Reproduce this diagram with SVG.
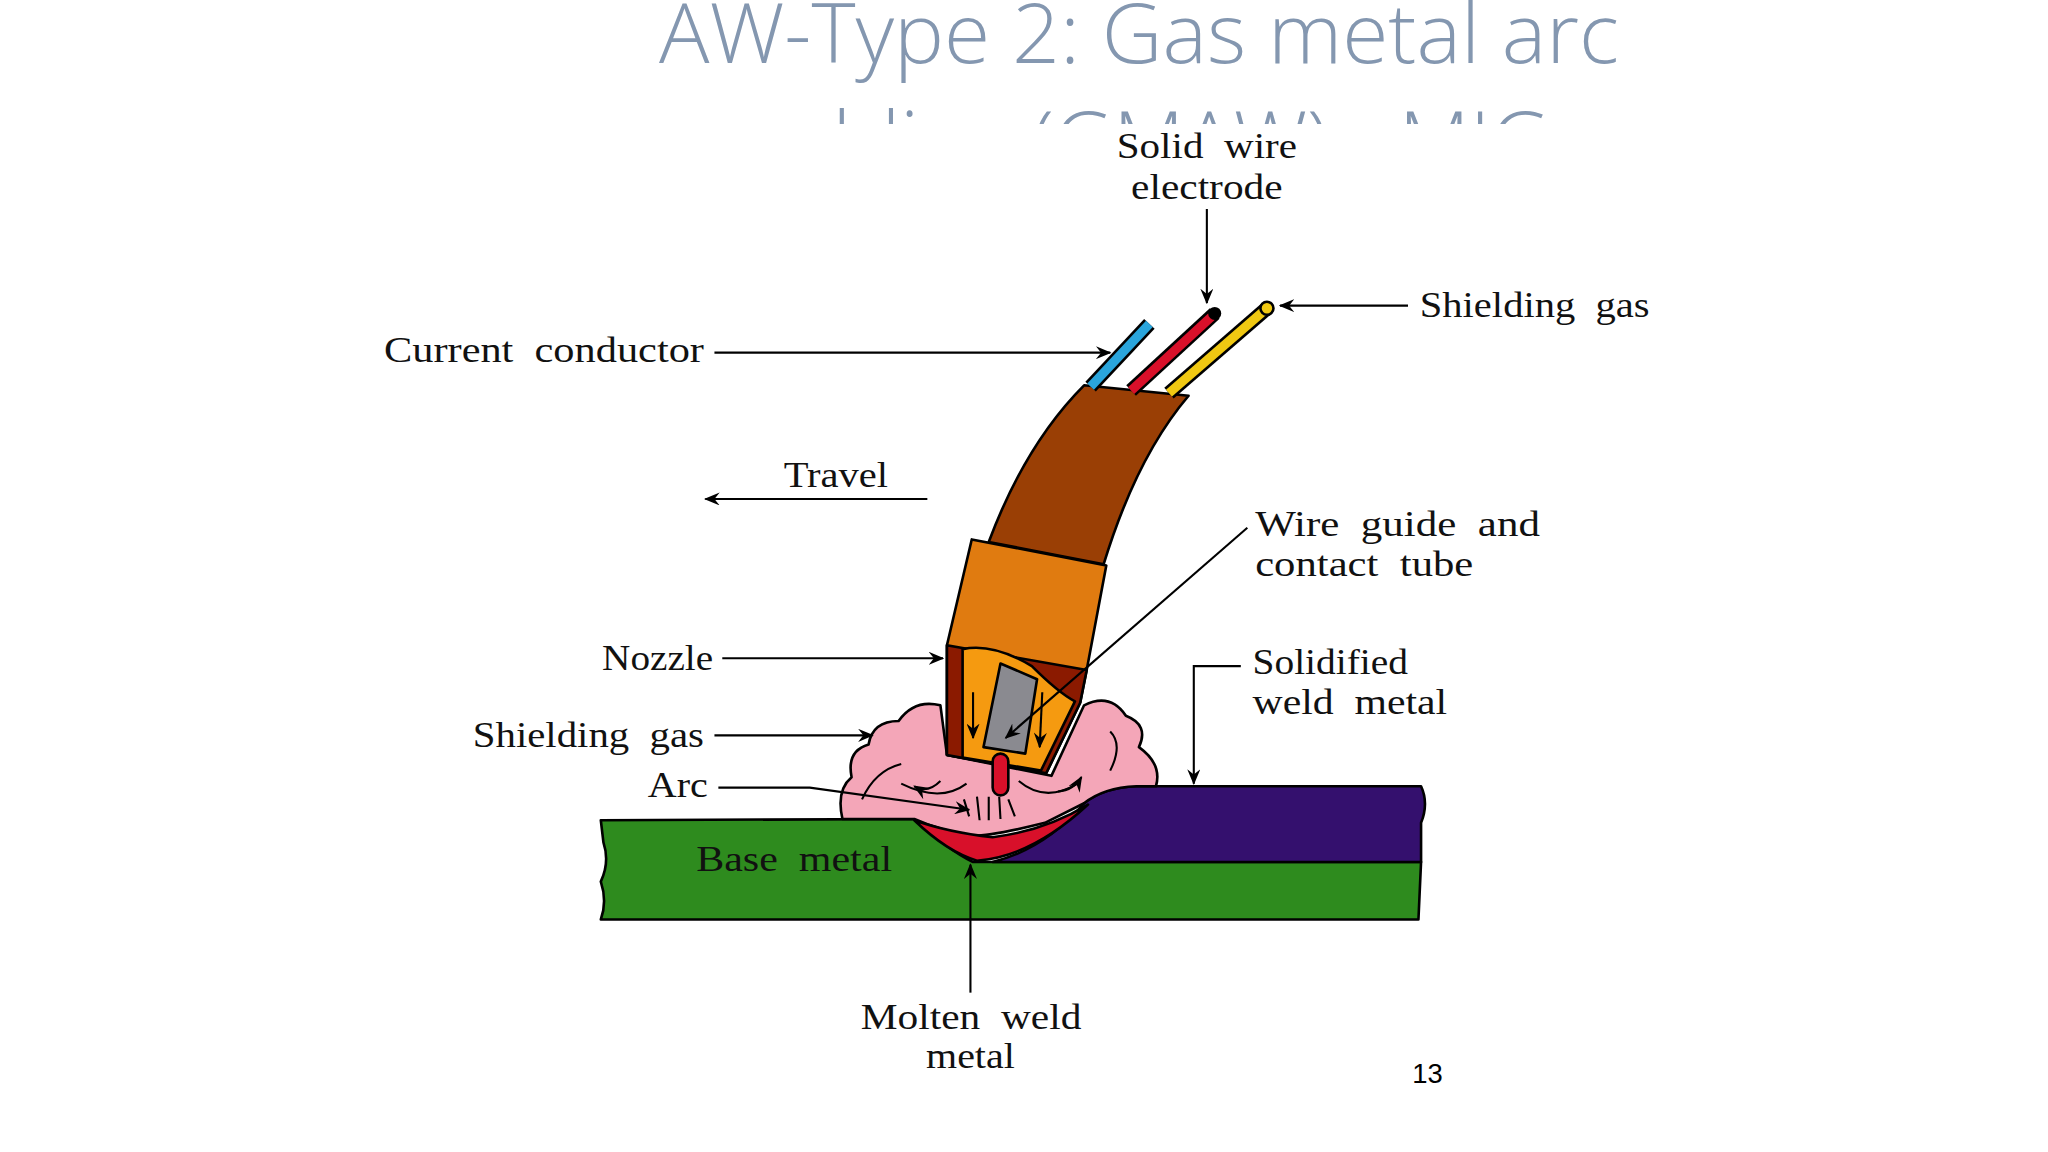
<svg xmlns="http://www.w3.org/2000/svg" width="2048" height="1152" viewBox="0 0 2048 1152">
<defs>
<style>
.lbl{font-family:"Liberation Serif",serif;font-size:27px;fill:#111}
.ln{stroke:#000;stroke-width:1.6;fill:none}
.ol{stroke:#000;stroke-width:2;stroke-linejoin:round}
</style>
<marker id="ah" viewBox="0 0 12 10" refX="11" refY="5" markerWidth="12" markerHeight="10" markerUnits="userSpaceOnUse" orient="auto"><path d="M0,0 L12,5 L0,10 L4,5 Z" fill="#000"/></marker>
<clipPath id="tc"><rect x="0" y="0" width="1568" height="95"/></clipPath>
</defs>
<rect width="2048" height="1152" fill="#fff"/>
<g transform="scale(1.30612)">
<g id="title" font-family="'Open Sans',sans-serif" font-weight="300" font-size="63" fill="#8497b0" text-anchor="middle" clip-path="url(#tc)">
<text x="872" y="48" textLength="735" lengthAdjust="spacingAndGlyphs">AW-Type 2: Gas metal arc</text>
<text x="872" y="131">welding (GMAW) - MIG</text>
</g>
<g id="base">
<path class="ol" d="M460,628 L700,627 Q725,650 745,660 L1088,660 L1086,704 L460,704 Q465,690 460,675 Q467,660 462,645 Z" fill="#2e8b1e"/>
<path class="ol" d="M760,660 Q800,650 830,615 Q845,603 870,602 L1088,602 Q1094,615 1088,630 L1088,660 Z" fill="#34106e"/>
</g>
<g id="gas">
<path class="ol" stroke-width="1" d="M645,627 Q640,605 652,595 Q648,575 665,570 Q668,552 688,552 Q700,535 720,540 L725,578 L805,594 L830,540 Q850,530 862,548 Q880,555 872,572 Q890,585 885,602 L870,602 Q845,603 830,615 L800,630 Q760,640 745,640 Q720,636 700,627 Z" fill="#f4a6b8"/>
<path class="ln" stroke-width="1" d="M660,612 Q670,590 690,585 M690,600 Q720,615 740,600 M780,598 Q800,615 825,600 M850,590 Q860,570 850,560"/>
<path class="ln" stroke-width="1.2" d="M738,612 L742,625 M748,610 L750,628 M757,610 L757,628 M765,610 L766,627 M772,612 L777,625"/>
</g>
<g id="pool"><path class="ol" stroke-width="1.5" d="M700,628 Q725,652 748,659 Q790,656 833,616 Q800,636 760,641 Q725,637 700,628 Z" fill="#d8102a"/></g>
<g id="torch">
<path class="ol" d="M830,295 L910,303 Q870,350 845,432 L757,415 Q785,340 830,295 Z" fill="#9a3f05"/>
<path class="ol" d="M744,413 L847,433 L832,513 L827,538 L801,592 L725,578 L725,494 Z" fill="#e07b10"/>
<path class="ol" d="M725,494 L832,513 L827,538 L801,592 L725,578 Z" fill="#8b1a00"/>
<path class="ol" stroke-width="1.2" d="M737,497 Q760,492 790,510 Q810,530 823,537 L797,590 L737,580 Z" fill="#f59a10"/>
<path class="ol" d="M766,508 L794,520 L785,577 L753,572 Z" fill="#8a8a90"/>
<rect class="ol" x="760" y="577" width="12" height="32" rx="6" fill="#d8102a"/>
<line x1="835" y1="296" x2="880" y2="248" stroke="#000" stroke-width="11"/>
<line x1="835" y1="296" x2="880" y2="248" stroke="#2aa5dc" stroke-width="7"/>
<line x1="866" y1="299" x2="930" y2="240" stroke="#000" stroke-width="11"/>
<line x1="866" y1="299" x2="928" y2="242" stroke="#d8102a" stroke-width="7"/>
<circle cx="930" cy="240" r="5" fill="#000"/>
<line x1="895" y1="301" x2="970" y2="236" stroke="#000" stroke-width="11"/>
<line x1="895" y1="301" x2="970" y2="236" stroke="#f0c812" stroke-width="7"/>
<circle class="ol" stroke-width="1.5" cx="970" cy="236" r="5" fill="#f0c812"/>
</g>
<g id="connectors">
<line class="ln" x1="924" y1="160" x2="924" y2="232" marker-end="url(#ah)"/>
<line class="ln" x1="1078" y1="234" x2="980" y2="234" marker-end="url(#ah)"/>
<line class="ln" x1="547" y1="270" x2="850" y2="270" marker-end="url(#ah)"/>
<line class="ln" x1="710" y1="382" x2="540" y2="382" marker-end="url(#ah)"/>
<line class="ln" x1="955" y1="404" x2="770" y2="565" marker-end="url(#ah)"/>
<line class="ln" x1="553" y1="504" x2="722" y2="504" marker-end="url(#ah)"/>
<polyline class="ln" points="950,510 914,510 914,600" marker-end="url(#ah)"/>
<line class="ln" x1="547" y1="563" x2="668" y2="563" marker-end="url(#ah)"/>
<polyline class="ln" points="550,603 620,603 742,620" marker-end="url(#ah)"/>
<line class="ln" x1="743" y1="760" x2="743" y2="662" marker-end="url(#ah)"/>
<line class="ln" x1="745" y1="530" x2="745" y2="565" marker-end="url(#ah)"/>
<line class="ln" x1="798" y1="530" x2="796" y2="572" marker-end="url(#ah)"/>
<path class="ln" d="M720,598 Q710,608 700,602" marker-end="url(#ah)"/>
<path class="ln" d="M810,606 Q822,605 828,595" marker-end="url(#ah)"/>
</g>
<g id="labels">
<text class="lbl" x="855" y="121" textLength="138" lengthAdjust="spacingAndGlyphs" xml:space="preserve">Solid  wire</text>
<text class="lbl" x="866" y="152" textLength="116" lengthAdjust="spacingAndGlyphs">electrode</text>
<text class="lbl" x="1087" y="243" textLength="176" lengthAdjust="spacingAndGlyphs" xml:space="preserve">Shielding  gas</text>
<text class="lbl" x="294" y="277" textLength="245" lengthAdjust="spacingAndGlyphs" xml:space="preserve">Current  conductor</text>
<text class="lbl" x="600" y="373" textLength="80" lengthAdjust="spacingAndGlyphs">Travel</text>
<text class="lbl" x="961" y="410" textLength="218" lengthAdjust="spacingAndGlyphs" xml:space="preserve">Wire  guide  and</text>
<text class="lbl" x="961" y="441" textLength="167" lengthAdjust="spacingAndGlyphs" xml:space="preserve">contact  tube</text>
<text class="lbl" x="461" y="513" textLength="85" lengthAdjust="spacingAndGlyphs">Nozzle</text>
<text class="lbl" x="959" y="516" textLength="119" lengthAdjust="spacingAndGlyphs">Solidified</text>
<text class="lbl" x="959" y="547" textLength="149" lengthAdjust="spacingAndGlyphs" xml:space="preserve">weld  metal</text>
<text class="lbl" x="362" y="572" textLength="177" lengthAdjust="spacingAndGlyphs" xml:space="preserve">Shielding  gas</text>
<text class="lbl" x="496" y="610" textLength="46" lengthAdjust="spacingAndGlyphs">Arc</text>
<text class="lbl" x="533" y="667" textLength="150" lengthAdjust="spacingAndGlyphs" xml:space="preserve">Base  metal</text>
<text class="lbl" x="659" y="788" textLength="169" lengthAdjust="spacingAndGlyphs" xml:space="preserve">Molten  weld</text>
<text class="lbl" x="709" y="818" textLength="68" lengthAdjust="spacingAndGlyphs">metal</text>
<text x="1093" y="829" text-anchor="middle" font-family="'Liberation Sans',sans-serif" font-size="21" fill="#000">13</text>
</g>
</g>
</svg>
